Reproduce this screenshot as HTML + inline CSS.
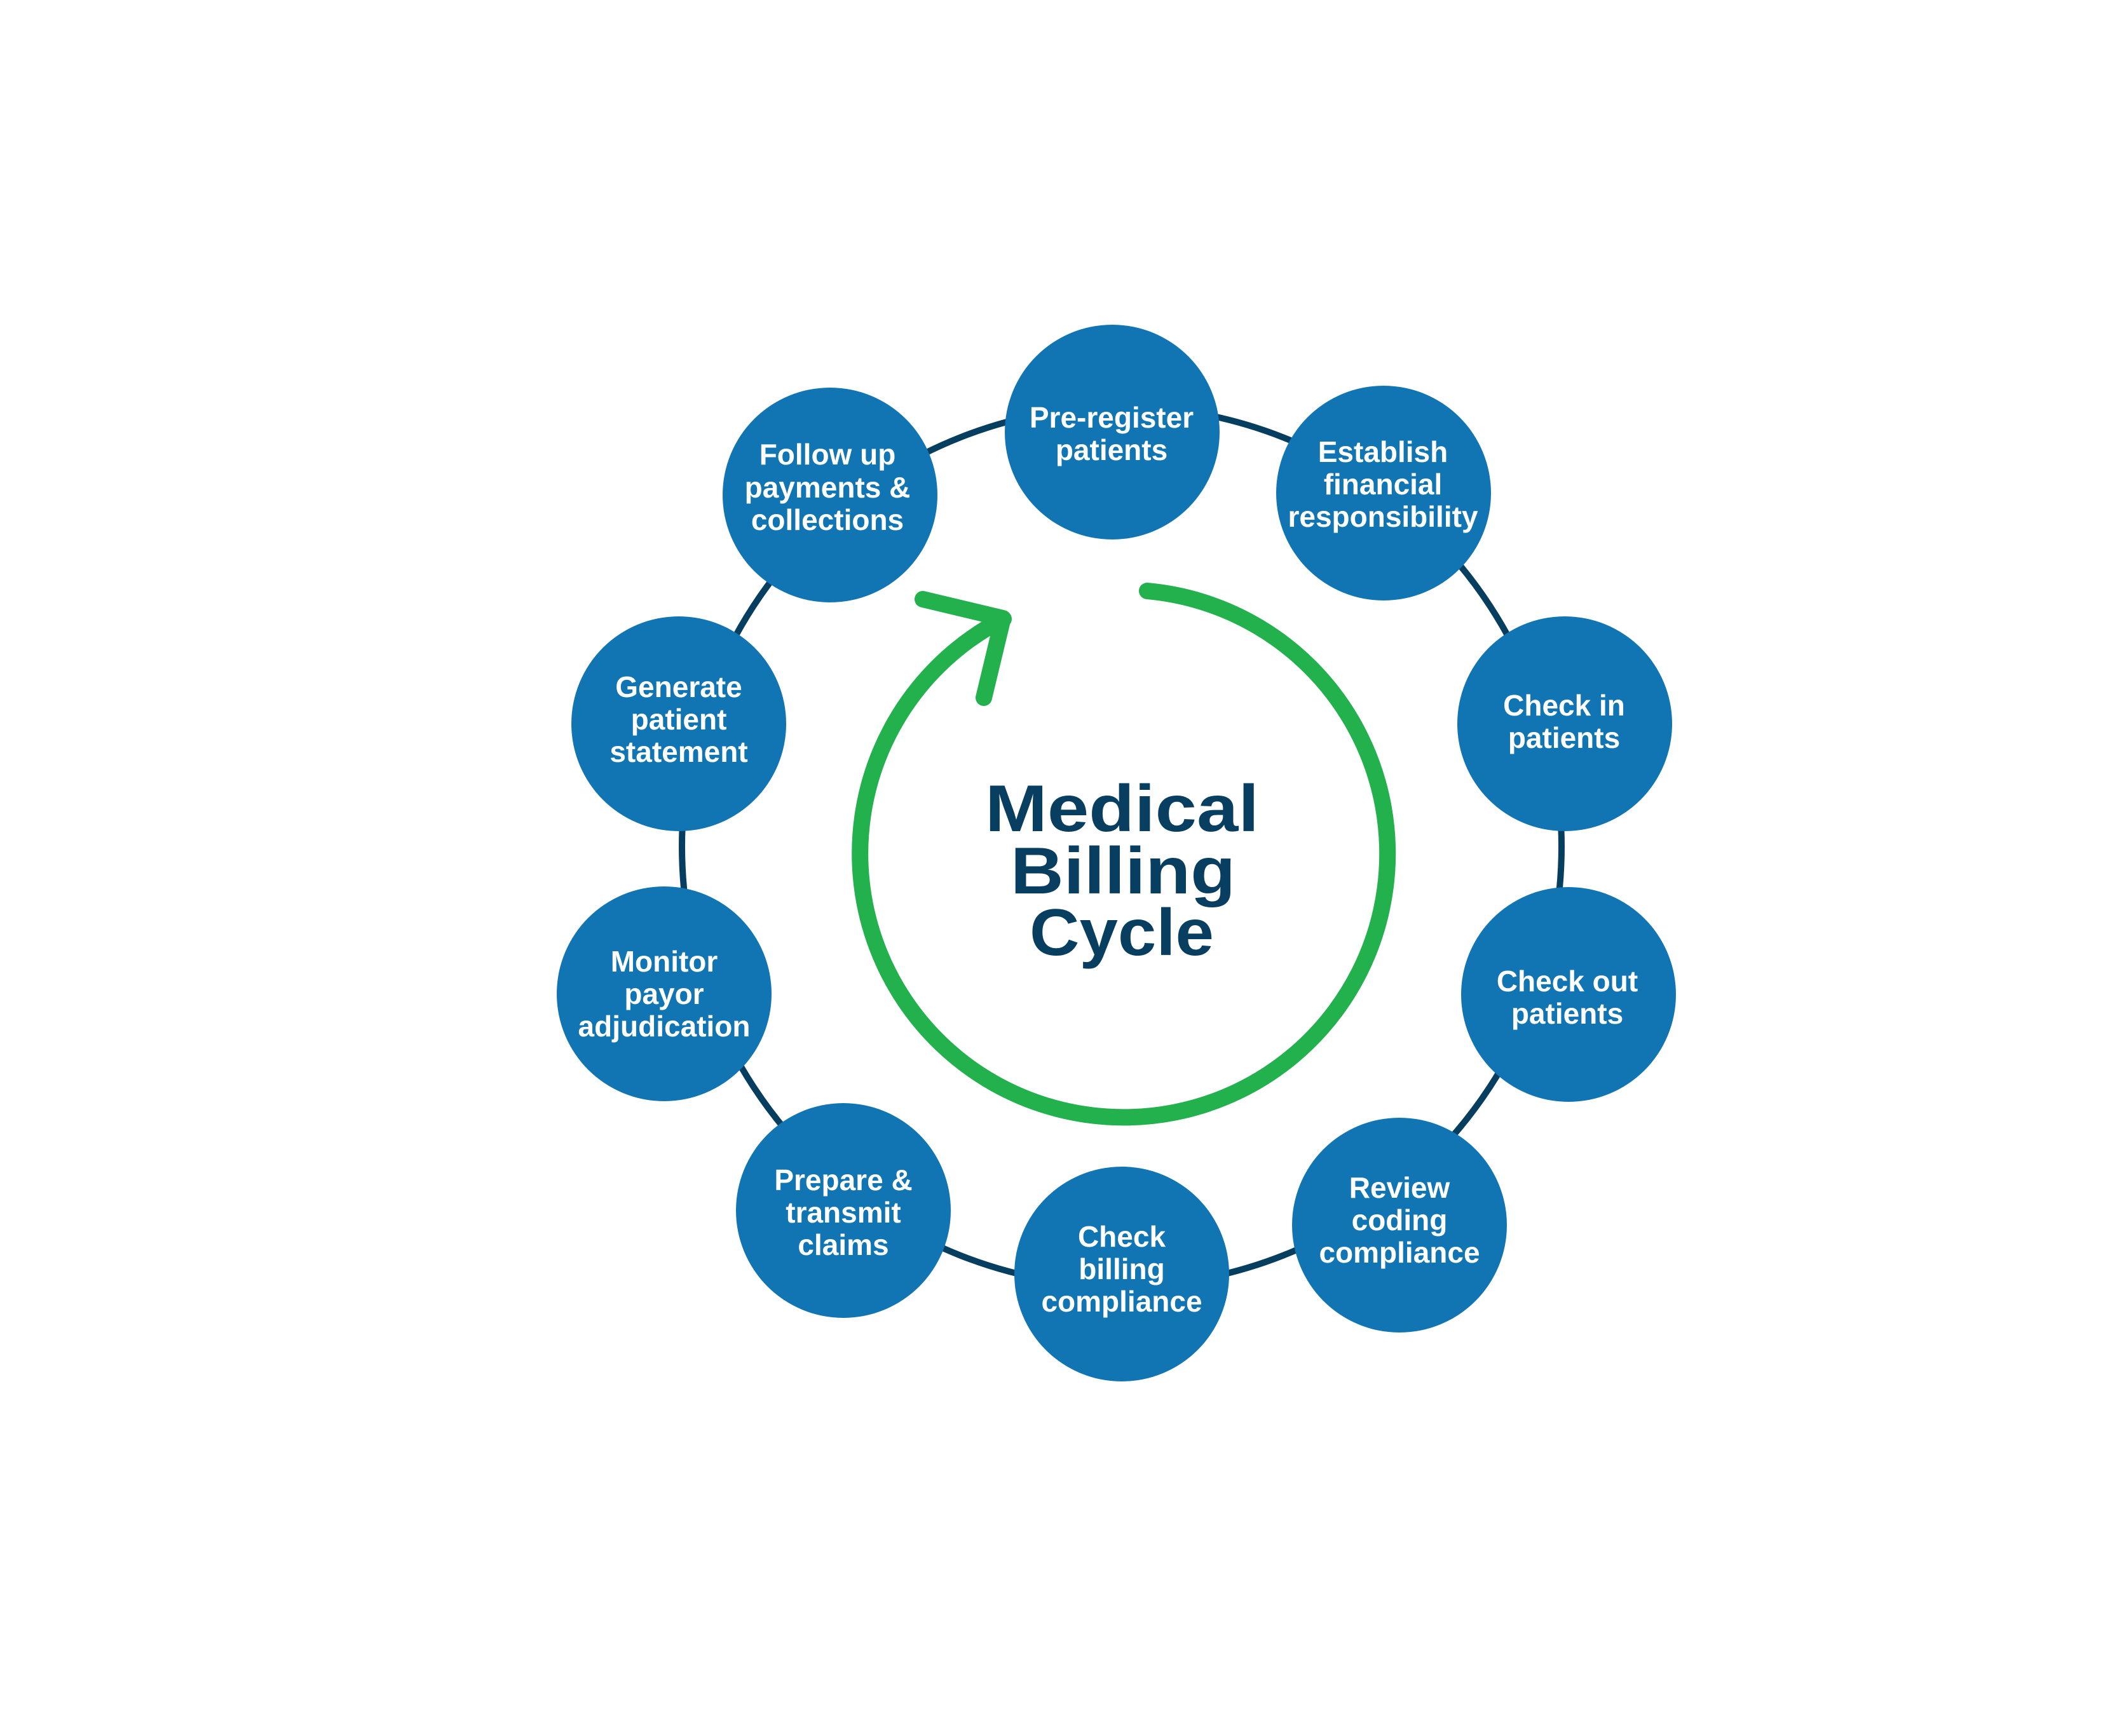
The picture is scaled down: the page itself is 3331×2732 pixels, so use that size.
<!DOCTYPE html>
<html>
<head>
<meta charset="utf-8">
<style>
  html,body{margin:0;padding:0;background:#ffffff;}
  svg{display:block;}
  .n{font-family:"Liberation Sans",Arial,sans-serif;font-weight:bold;font-size:46px;fill:#ffffff;text-anchor:middle;}
  .t{font-family:"Liberation Sans",Arial,sans-serif;font-weight:bold;font-size:104px;fill:#083f61;}
</style>
</head>
<body>
<svg width="3331" height="2732" viewBox="0 0 3331 2732" xmlns="http://www.w3.org/2000/svg">
  <rect x="0" y="0" width="3331" height="2732" fill="#ffffff"/>

  <!-- navy ring -->
  <circle cx="1765" cy="1332" r="692" fill="none" stroke="#063e60" stroke-width="10"/>

  <!-- green cycle arrow -->
  <path d="M 1805 930 A 415 415 0 1 1 1579 974" fill="none" stroke="#22b14c" stroke-width="26" stroke-linecap="round"/>
  <polyline points="1452,943 1578,973 1548,1098" fill="none" stroke="#22b14c" stroke-width="26" stroke-linecap="round" stroke-linejoin="round"/>

  <!-- title -->
  <text class="t" x="1550" y="1308" textLength="431" lengthAdjust="spacingAndGlyphs">Medical</text>
  <text class="t" x="1590" y="1406" textLength="354" lengthAdjust="spacingAndGlyphs">Billing</text>
  <text class="t" x="1620" y="1503" textLength="290" lengthAdjust="spacingAndGlyphs">Cycle</text>

  <!-- nodes -->
  <g fill="#1175b4">
    <circle cx="1750" cy="680" r="169"/>
    <circle cx="2177" cy="776" r="169"/>
    <circle cx="2462" cy="1139" r="169"/>
    <circle cx="2468" cy="1565" r="169"/>
    <circle cx="2202" cy="1928" r="169"/>
    <circle cx="1765" cy="2005" r="169"/>
    <circle cx="1327" cy="1905" r="169"/>
    <circle cx="1045" cy="1564" r="169"/>
    <circle cx="1068" cy="1139" r="169"/>
    <circle cx="1306" cy="779" r="169"/>
  </g>

  <!-- node labels -->
  <text class="n" x="1749" y="673">Pre-register</text>
  <text class="n" x="1749" y="724">patients</text>

  <text class="n" x="2176" y="727">Establish</text>
  <text class="n" x="2176" y="778">financial</text>
  <text class="n" x="2176" y="829">responsibility</text>

  <text class="n" x="2461" y="1126">Check in</text>
  <text class="n" x="2461" y="1177">patients</text>

  <text class="n" x="2466" y="1560">Check out</text>
  <text class="n" x="2466" y="1611">patients</text>

  <text class="n" x="2202" y="1885">Review</text>
  <text class="n" x="2202" y="1936">coding</text>
  <text class="n" x="2202" y="1987">compliance</text>

  <text class="n" x="1765" y="1962">Check</text>
  <text class="n" x="1765" y="2013">billing</text>
  <text class="n" x="1765" y="2064">compliance</text>

  <text class="n" x="1327" y="1873">Prepare &amp;</text>
  <text class="n" x="1327" y="1924">transmit</text>
  <text class="n" x="1327" y="1975">claims</text>

  <text class="n" x="1045" y="1529">Monitor</text>
  <text class="n" x="1045" y="1580">payor</text>
  <text class="n" x="1045" y="1631">adjudication</text>

  <text class="n" x="1068" y="1097">Generate</text>
  <text class="n" x="1068" y="1148">patient</text>
  <text class="n" x="1068" y="1199">statement</text>

  <text class="n" x="1302" y="731">Follow up</text>
  <text class="n" x="1302" y="783">payments &amp;</text>
  <text class="n" x="1302" y="834">collections</text>
</svg>
</body>
</html>
